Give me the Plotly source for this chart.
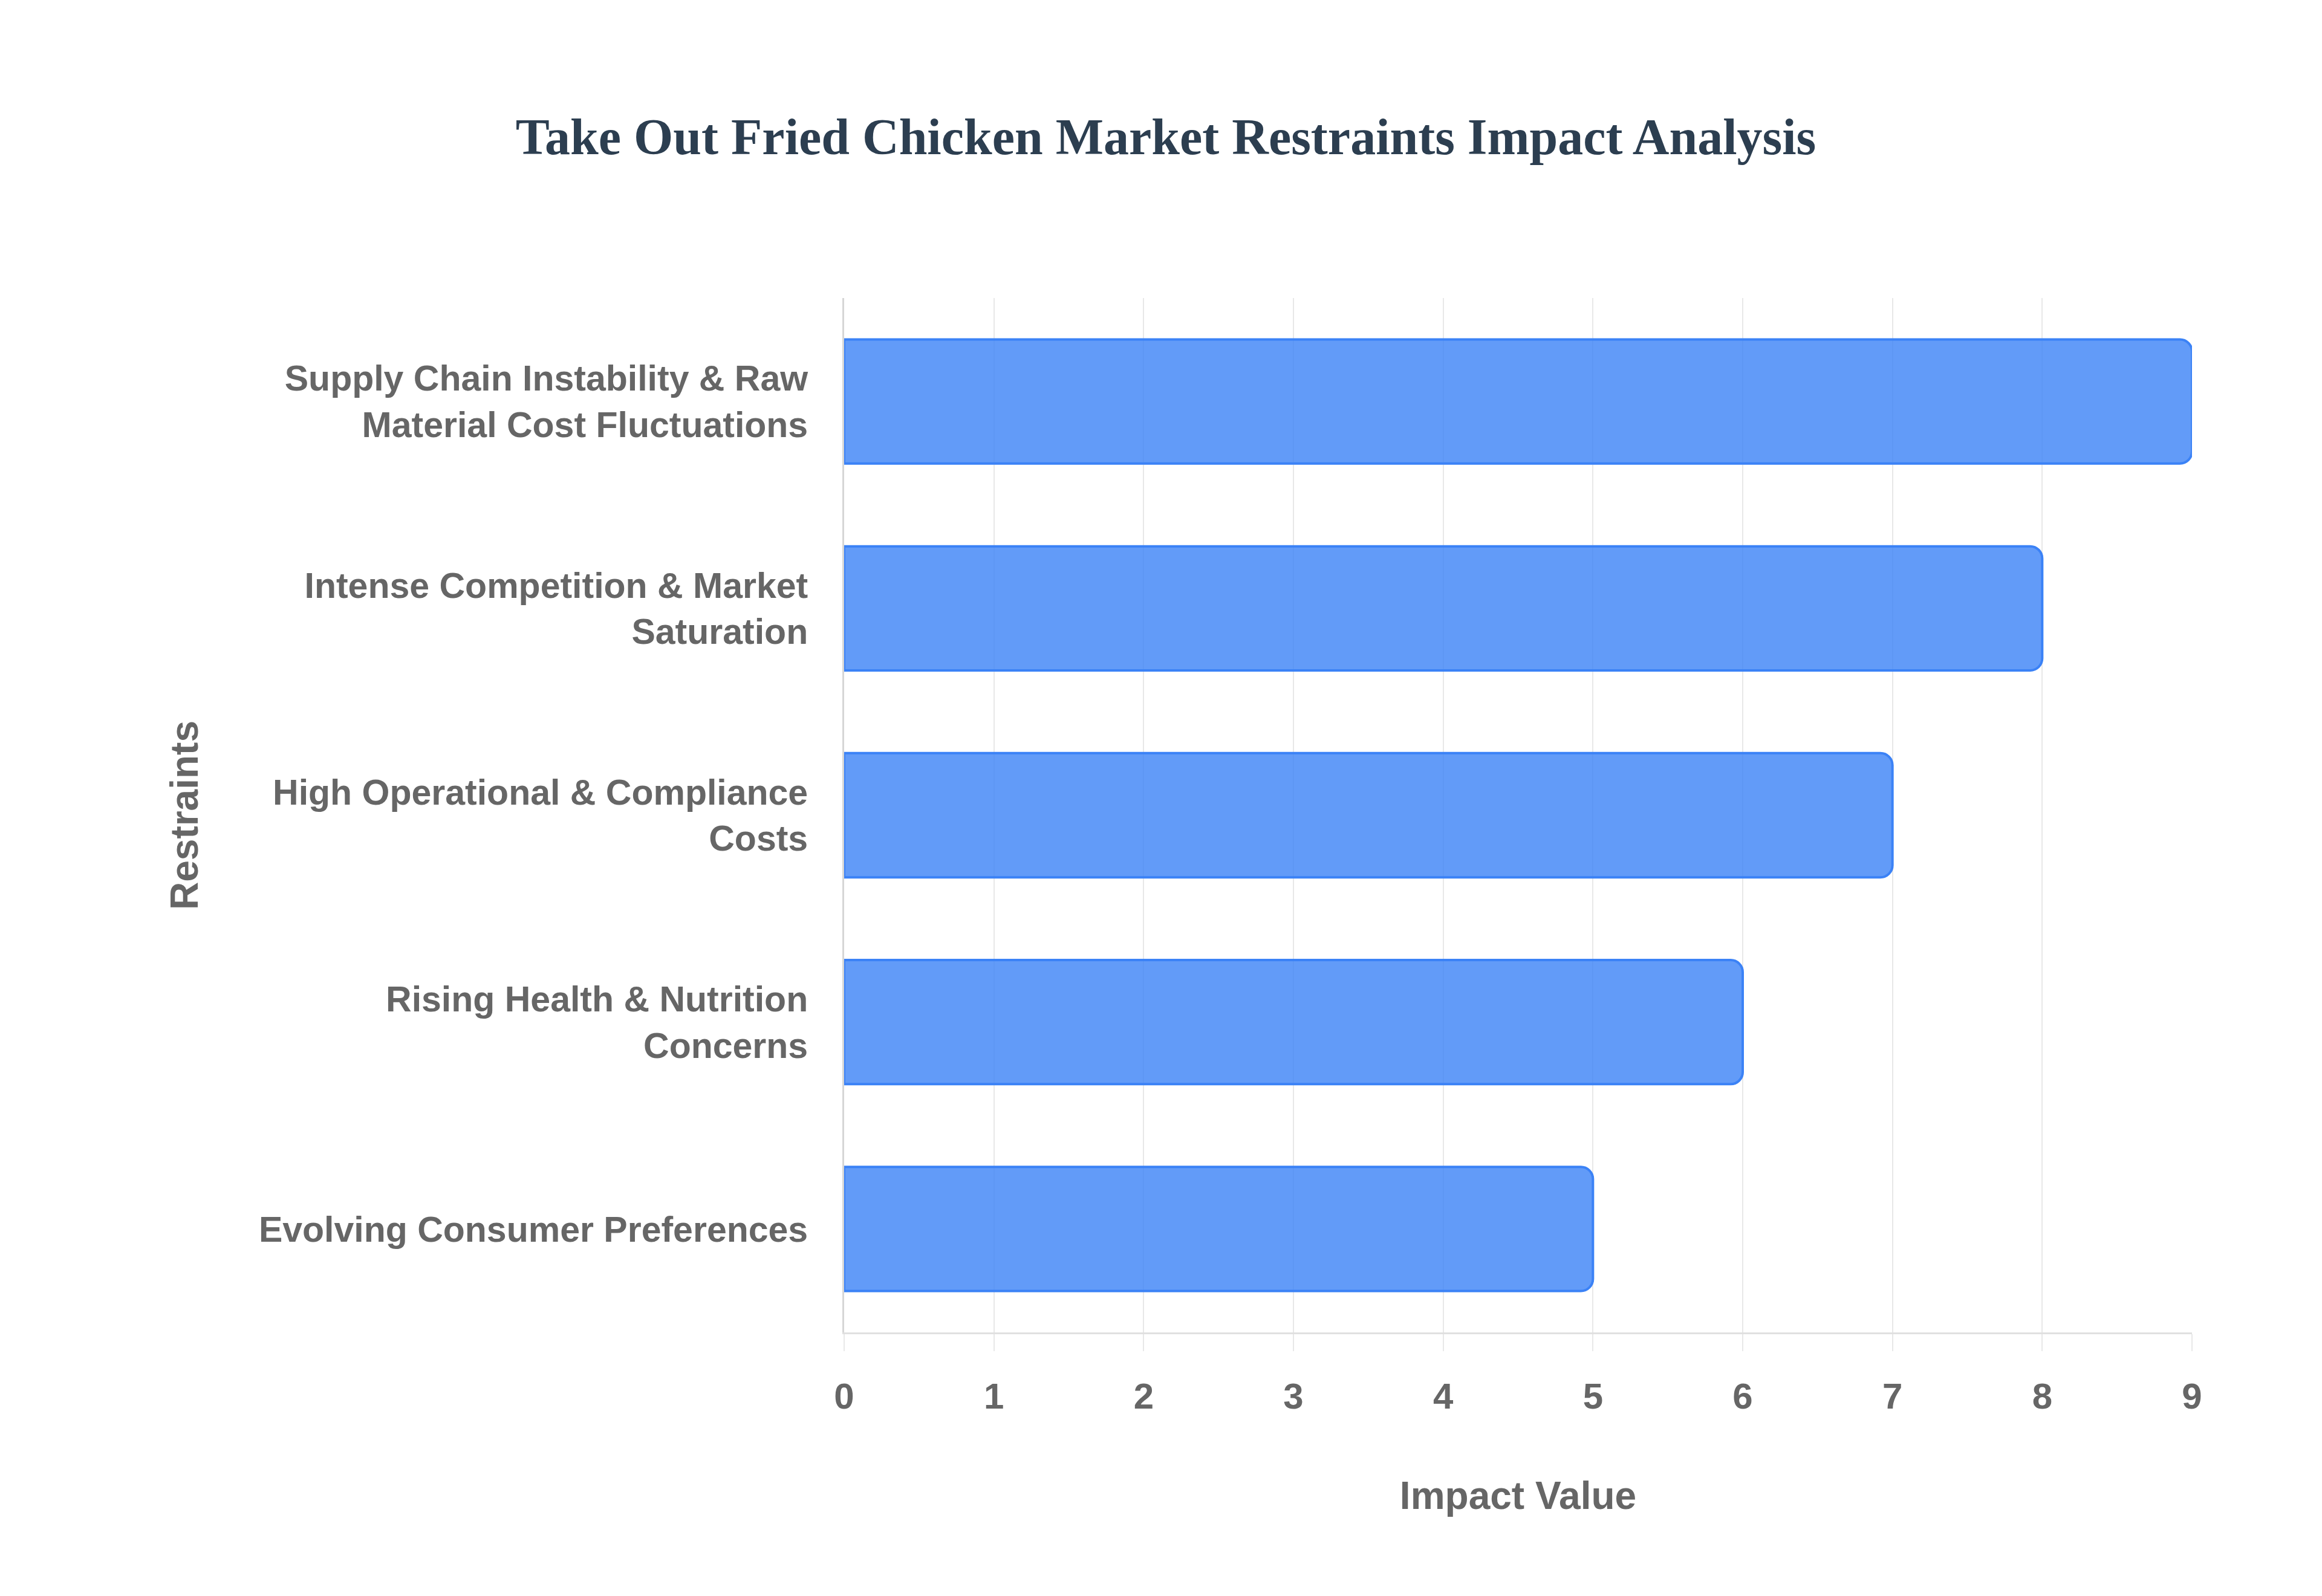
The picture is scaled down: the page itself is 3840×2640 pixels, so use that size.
import plotly.graph_objects as go

# bottom to top, as plotly draws categories
restraints = [
    "Evolving Consumer Preferences",
    "Rising Health & Nutrition<br>Concerns",
    "High Operational & Compliance<br>Costs",
    "Intense Competition & Market<br>Saturation",
    "Supply Chain Instability & Raw<br>Material Cost Fluctuations",
]
impact = [5, 6, 7, 8, 9]

label_font = dict(family="Liberation Sans, Arial, sans-serif", color="#666666", weight="bold")

fig = go.Figure(go.Bar(
    x=impact,
    y=restraints,
    orientation="h",
    marker=dict(
        color="rgba(59,130,246,0.8)",
        line=dict(color="#3b82f6", width=4),
        cornerradius=20,
    ),
    hoverinfo="x+y",
))

fig.update_layout(
    width=3840,
    height=2640,
    margin=dict(l=1388, r=223, t=485, b=444),
    paper_bgcolor="white",
    plot_bgcolor="white",
    bargap=0.4,
    showlegend=False,
    title=dict(
        text="Take Out Fried Chicken Market Restraints Impact Analysis",
        x=0.5, xanchor="center",
        y=1 - 218 / 2640, yanchor="middle",
        font=dict(family="Liberation Serif, Times New Roman, serif", size=84,
                  color="#2c3e50", weight="bold"),
    ),
)

fig.update_xaxes(
    range=[0, 9],
    dtick=1,
    showgrid=True,
    gridcolor="#e8e8e8",
    gridwidth=2,
    showline=True,
    linecolor="#e0e0e0",
    linewidth=3,
    ticks="outside",
    ticklen=28,
    tickwidth=2,
    tickcolor="#e8e8e8",
    ticklabelstandoff=23,
    zeroline=False,
    tickfont=dict(size=60, **label_font),
    title=dict(text="Impact Value", standoff=110, font=dict(size=64, **label_font)),
)

fig.update_yaxes(
    showgrid=False,
    showline=True,
    linecolor="#d6d6d6",
    linewidth=3,
    ticks="",
    ticklabelstandoff=45,
    tickfont=dict(size=59, **label_font),
    title=dict(text="Restraints", standoff=80, font=dict(size=64, **label_font)),
)

fig.write_html("out.html")
